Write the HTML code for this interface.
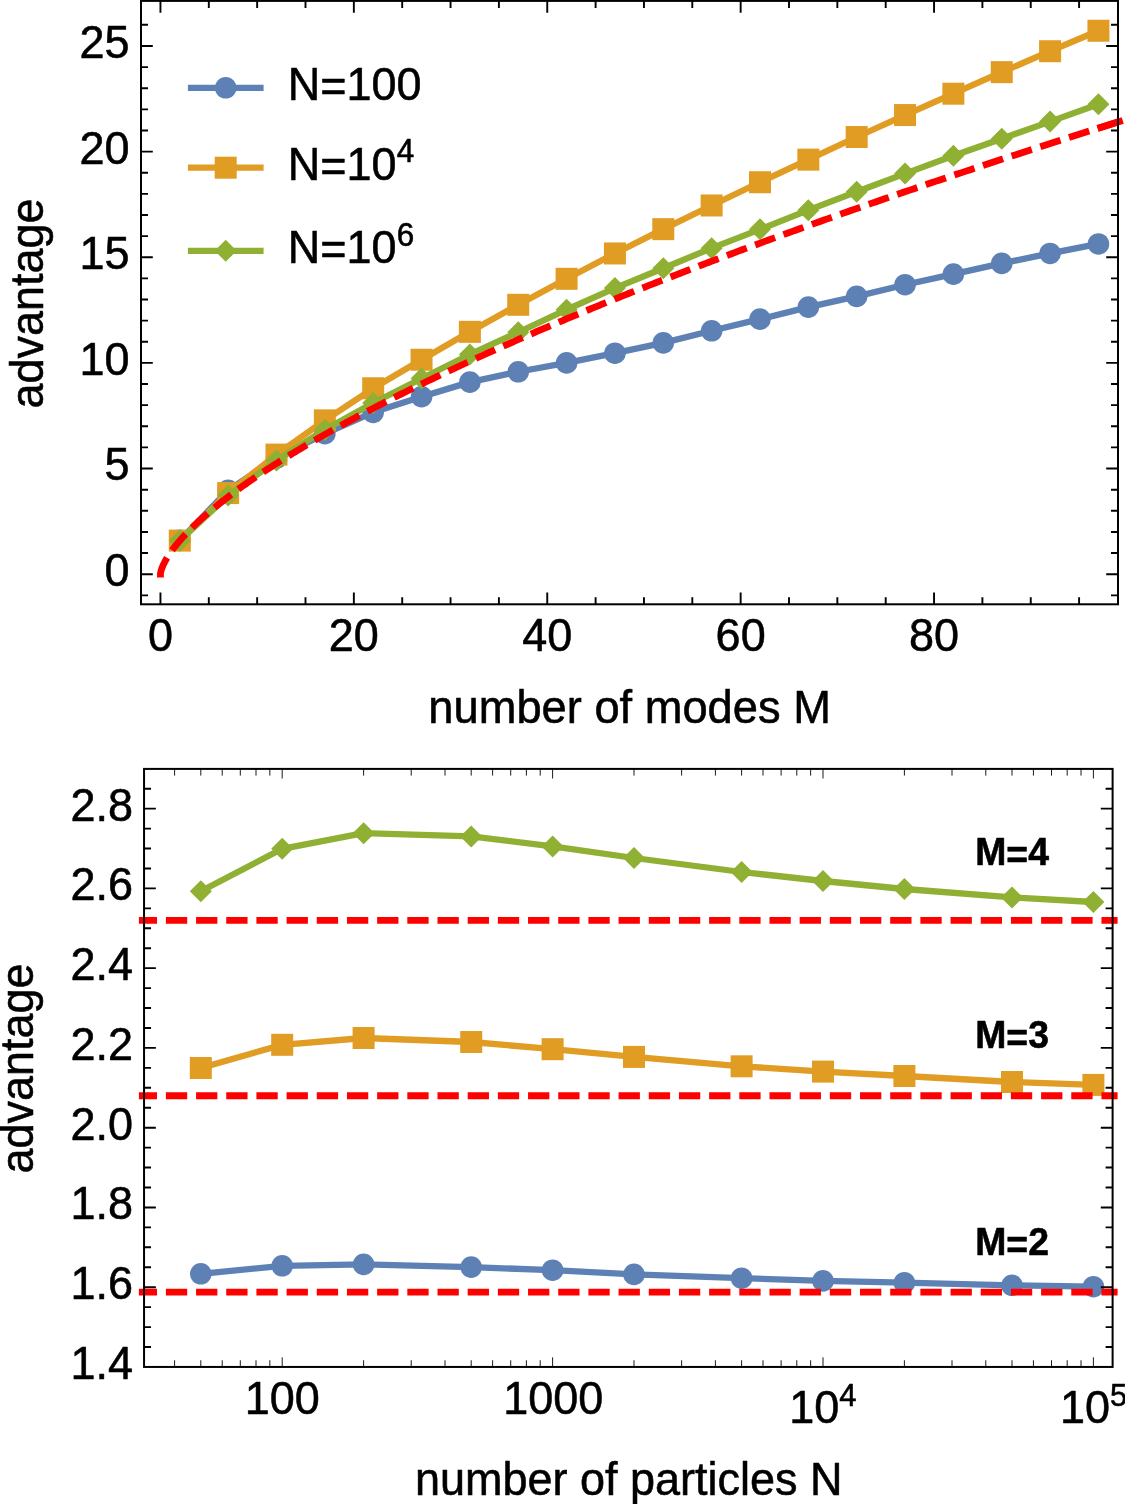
<!DOCTYPE html>
<html><head><meta charset="utf-8"><title>advantage plots</title>
<style>html,body{margin:0;padding:0;background:#fff}svg{display:block}text{font-family:"Liberation Sans", sans-serif;fill:#000}</style>
</head><body>
<svg width="1125" height="1504" viewBox="0 0 1125 1504">
<rect width="1125" height="1504" fill="#fff"/>
<polyline fill="none" stroke="#5e81b5" stroke-width="6.3" stroke-linejoin="round" points="179.79,540.39 228.14,490.31 276.49,457.99 324.84,433.69 373.19,412.34 421.54,396.71 469.89,382.13 518.24,371.77 566.59,362.9 614.94,353.18 663.29,342.83 711.64,330.78 759.99,319.16 808.34,307.12 856.69,296.34 905.04,284.72 953.39,274.15 1001.74,263.38 1050.09,253.45 1098.44,243.94"/>
<circle cx="179.79" cy="540.39" r="10.8" fill="#5e81b5"/>
<circle cx="228.14" cy="490.31" r="10.8" fill="#5e81b5"/>
<circle cx="276.49" cy="457.99" r="10.8" fill="#5e81b5"/>
<circle cx="324.84" cy="433.69" r="10.8" fill="#5e81b5"/>
<circle cx="373.19" cy="412.34" r="10.8" fill="#5e81b5"/>
<circle cx="421.54" cy="396.71" r="10.8" fill="#5e81b5"/>
<circle cx="469.89" cy="382.13" r="10.8" fill="#5e81b5"/>
<circle cx="518.24" cy="371.77" r="10.8" fill="#5e81b5"/>
<circle cx="566.59" cy="362.9" r="10.8" fill="#5e81b5"/>
<circle cx="614.94" cy="353.18" r="10.8" fill="#5e81b5"/>
<circle cx="663.29" cy="342.83" r="10.8" fill="#5e81b5"/>
<circle cx="711.64" cy="330.78" r="10.8" fill="#5e81b5"/>
<circle cx="759.99" cy="319.16" r="10.8" fill="#5e81b5"/>
<circle cx="808.34" cy="307.12" r="10.8" fill="#5e81b5"/>
<circle cx="856.69" cy="296.34" r="10.8" fill="#5e81b5"/>
<circle cx="905.04" cy="284.72" r="10.8" fill="#5e81b5"/>
<circle cx="953.39" cy="274.15" r="10.8" fill="#5e81b5"/>
<circle cx="1001.74" cy="263.38" r="10.8" fill="#5e81b5"/>
<circle cx="1050.09" cy="253.45" r="10.8" fill="#5e81b5"/>
<circle cx="1098.44" cy="243.94" r="10.8" fill="#5e81b5"/>
<polyline fill="none" stroke="#e19c24" stroke-width="6.3" stroke-linejoin="round" points="179.79,540.6 228.14,493.06 276.49,454.6 324.84,420.37 373.19,388.26 421.54,359.73 469.89,331.84 518.24,304.79 566.59,278.8 614.94,253.45 663.29,229.15 711.64,205.48 759.99,182.24 808.34,159.63 856.69,137.02 905.04,115.05 953.39,93.7 1001.74,72.15 1050.09,51.23 1098.44,30.74"/>
<rect x="168.79" y="529.6" width="22" height="22" fill="#e19c24"/>
<rect x="217.14" y="482.06" width="22" height="22" fill="#e19c24"/>
<rect x="265.49" y="443.6" width="22" height="22" fill="#e19c24"/>
<rect x="313.84" y="409.37" width="22" height="22" fill="#e19c24"/>
<rect x="362.19" y="377.26" width="22" height="22" fill="#e19c24"/>
<rect x="410.54" y="348.73" width="22" height="22" fill="#e19c24"/>
<rect x="458.89" y="320.84" width="22" height="22" fill="#e19c24"/>
<rect x="507.24" y="293.79" width="22" height="22" fill="#e19c24"/>
<rect x="555.59" y="267.8" width="22" height="22" fill="#e19c24"/>
<rect x="603.94" y="242.45" width="22" height="22" fill="#e19c24"/>
<rect x="652.29" y="218.15" width="22" height="22" fill="#e19c24"/>
<rect x="700.64" y="194.48" width="22" height="22" fill="#e19c24"/>
<rect x="748.99" y="171.24" width="22" height="22" fill="#e19c24"/>
<rect x="797.34" y="148.63" width="22" height="22" fill="#e19c24"/>
<rect x="845.69" y="126.02" width="22" height="22" fill="#e19c24"/>
<rect x="894.04" y="104.05" width="22" height="22" fill="#e19c24"/>
<rect x="942.39" y="82.7" width="22" height="22" fill="#e19c24"/>
<rect x="990.74" y="61.15" width="22" height="22" fill="#e19c24"/>
<rect x="1039.09" y="40.23" width="22" height="22" fill="#e19c24"/>
<rect x="1087.44" y="19.74" width="22" height="22" fill="#e19c24"/>
<polyline fill="none" stroke="#8fb032" stroke-width="6.3" stroke-linejoin="round" points="179.79,540.6 228.14,495.6 276.49,460.52 324.84,429.67 373.19,403.05 421.54,378.54 469.89,354.45 518.24,332.26 566.59,309.65 614.94,288.1 663.29,268.24 711.64,248.16 759.99,229.36 808.34,210.13 856.69,191.75 905.04,173.58 953.39,155.83 1001.74,138.71 1050.09,121.6 1098.44,104.27"/>
<polygon fill="#8fb032" points="168.79,540.6 179.79,529.6 190.79,540.6 179.79,551.6"/>
<polygon fill="#8fb032" points="217.14,495.6 228.14,484.6 239.14,495.6 228.14,506.6"/>
<polygon fill="#8fb032" points="265.49,460.52 276.49,449.52 287.49,460.52 276.49,471.52"/>
<polygon fill="#8fb032" points="313.84,429.67 324.84,418.67 335.84,429.67 324.84,440.67"/>
<polygon fill="#8fb032" points="362.19,403.05 373.19,392.05 384.19,403.05 373.19,414.05"/>
<polygon fill="#8fb032" points="410.54,378.54 421.54,367.54 432.54,378.54 421.54,389.54"/>
<polygon fill="#8fb032" points="458.89,354.45 469.89,343.45 480.89,354.45 469.89,365.45"/>
<polygon fill="#8fb032" points="507.24,332.26 518.24,321.26 529.24,332.26 518.24,343.26"/>
<polygon fill="#8fb032" points="555.59,309.65 566.59,298.65 577.59,309.65 566.59,320.65"/>
<polygon fill="#8fb032" points="603.94,288.1 614.94,277.1 625.94,288.1 614.94,299.1"/>
<polygon fill="#8fb032" points="652.29,268.24 663.29,257.24 674.29,268.24 663.29,279.24"/>
<polygon fill="#8fb032" points="700.64,248.16 711.64,237.16 722.64,248.16 711.64,259.16"/>
<polygon fill="#8fb032" points="748.99,229.36 759.99,218.36 770.99,229.36 759.99,240.36"/>
<polygon fill="#8fb032" points="797.34,210.13 808.34,199.13 819.34,210.13 808.34,221.13"/>
<polygon fill="#8fb032" points="845.69,191.75 856.69,180.75 867.69,191.75 856.69,202.75"/>
<polygon fill="#8fb032" points="894.04,173.58 905.04,162.58 916.04,173.58 905.04,184.58"/>
<polygon fill="#8fb032" points="942.39,155.83 953.39,144.83 964.39,155.83 953.39,166.83"/>
<polygon fill="#8fb032" points="990.74,138.71 1001.74,127.71 1012.74,138.71 1001.74,149.71"/>
<polygon fill="#8fb032" points="1039.09,121.6 1050.09,110.6 1061.09,121.6 1050.09,132.6"/>
<polygon fill="#8fb032" points="1087.44,104.27 1098.44,93.27 1109.44,104.27 1098.44,115.27"/>
<polyline fill="none" stroke="#ff0000" stroke-width="6.8" stroke-dasharray="21.2 8.96" points="160.45,577.5 160.45,574.2 160.46,574.05 160.47,573.81 160.5,573.53 160.55,573.22 160.6,572.88 160.67,572.52 160.74,572.14 160.83,571.74 160.94,571.32 161.05,570.88 161.18,570.43 161.32,569.97 161.47,569.49 161.63,569.01 161.8,568.5 161.99,567.99 162.19,567.47 162.4,566.94 162.62,566.39 162.86,565.84 163.1,565.28 163.36,564.71 163.63,564.13 163.91,563.54 164.21,562.95 164.52,562.34 164.83,561.73 165.17,561.11 165.51,560.48 165.86,559.85 166.23,559.21 166.61,558.56 167,557.9 167.4,557.24 167.82,556.57 168.24,555.9 168.68,555.22 169.13,554.53 169.6,553.84 170.07,553.14 170.56,552.43 171.06,551.72 171.57,551.01 172.09,550.29 172.63,549.56 173.18,548.83 173.74,548.09 174.31,547.34 174.89,546.59 175.49,545.84 176.09,545.08 176.71,544.32 177.34,543.55 177.99,542.78 178.64,542 179.31,541.22 179.99,540.43 180.68,539.64 181.38,538.84 182.1,538.04 182.83,537.23 183.57,536.42 184.32,535.61 185.08,534.79 185.86,533.96 186.65,533.14 187.45,532.31 188.26,531.47 189.08,530.63 189.92,529.79 190.77,528.94 191.63,528.09 192.5,527.23 193.38,526.37 194.28,525.51 195.19,524.64 196.11,523.77 197.04,522.89 197.98,522.01 198.94,521.13 199.91,520.24 200.89,519.35 201.88,518.46 202.89,517.56 203.9,516.66 204.93,515.76 205.97,514.85 207.02,513.94 208.09,513.02 209.16,512.11 210.25,511.18 211.35,510.26 212.47,509.33 213.59,508.4 214.73,507.46 215.88,506.53 217.04,505.58 218.21,504.64 219.39,503.69 220.59,502.74 221.8,501.79 223.02,500.83 224.25,499.87 225.5,498.9 226.76,497.94 228.02,496.97 229.31,495.99 230.6,495.02 231.9,494.04 233.22,493.06 234.55,492.07 235.89,491.08 237.24,490.09 238.61,489.1 239.99,488.1 241.38,487.1 242.78,486.1 244.19,485.09 245.62,484.09 247.05,483.08 248.5,482.06 249.96,481.04 251.44,480.03 252.92,479 254.42,477.98 255.93,476.95 257.45,475.92 258.98,474.89 260.53,473.85 262.09,472.81 263.66,471.77 265.24,470.73 266.83,469.68 268.44,468.63 270.06,467.58 271.69,466.53 273.33,465.47 274.98,464.41 276.65,463.35 278.33,462.28 280.02,461.22 281.72,460.15 283.43,459.07 285.16,458 286.9,456.92 288.65,455.84 290.41,454.76 292.18,453.68 293.97,452.59 295.77,451.5 297.58,450.41 299.4,449.31 301.23,448.22 303.08,447.12 304.94,446.02 306.81,444.91 308.69,443.81 310.59,442.7 312.49,441.59 314.41,440.47 316.34,439.36 318.28,438.24 320.24,437.12 322.2,436 324.18,434.87 326.17,433.74 328.18,432.62 330.19,431.48 332.22,430.35 334.26,429.21 336.31,428.08 338.37,426.94 340.44,425.79 342.53,424.65 344.63,423.5 346.74,422.35 348.86,421.2 351,420.05 353.15,418.89 355.31,417.73 357.48,416.57 359.66,415.41 361.85,414.25 364.06,413.08 366.28,411.91 368.51,410.74 370.76,409.57 373.01,408.39 375.28,407.22 377.56,406.04 379.85,404.86 382.15,403.67 384.47,402.49 386.8,401.3 389.13,400.11 391.49,398.92 393.85,397.73 396.23,396.53 398.61,395.33 401.01,394.13 403.42,392.93 405.85,391.73 408.28,390.52 410.73,389.32 413.19,388.11 415.66,386.89 418.15,385.68 420.64,384.47 423.15,383.25 425.67,382.03 428.2,380.81 430.75,379.59 433.3,378.36 435.87,377.13 438.45,375.91 441.04,374.67 443.65,373.44 446.26,372.21 448.89,370.97 451.53,369.73 454.18,368.49 456.85,367.25 459.52,366.01 462.21,364.76 464.91,363.51 467.62,362.26 470.35,361.01 473.09,359.76 475.83,358.5 478.59,357.25 481.37,355.99 484.15,354.73 486.95,353.47 489.76,352.2 492.58,350.94 495.41,349.67 498.25,348.4 501.11,347.13 503.98,345.86 506.86,344.58 509.75,343.3 512.66,342.03 515.57,340.75 518.5,339.46 521.44,338.18 524.4,336.89 527.36,335.61 530.34,334.32 533.33,333.03 536.33,331.74 539.34,330.44 542.37,329.15 545.4,327.85 548.45,326.55 551.51,325.25 554.59,323.95 557.67,322.64 560.77,321.34 563.88,320.03 567,318.72 570.13,317.41 573.28,316.1 576.44,314.78 579.61,313.47 582.79,312.15 585.98,310.83 589.19,309.51 592.4,308.18 595.63,306.86 598.88,305.53 602.13,304.21 605.39,302.88 608.67,301.55 611.96,300.21 615.26,298.88 618.58,297.54 621.9,296.21 625.24,294.87 628.59,293.53 631.95,292.19 635.33,290.84 638.71,289.5 642.11,288.15 645.52,286.8 648.94,285.45 652.38,284.1 655.82,282.75 659.28,281.39 662.75,280.04 666.23,278.68 669.73,277.32 673.23,275.96 676.75,274.59 680.28,273.23 683.82,271.86 687.38,270.5 690.94,269.13 694.52,267.76 698.11,266.39 701.72,265.01 705.33,263.64 708.96,262.26 712.6,260.88 716.25,259.5 719.91,258.12 723.58,256.74 727.27,255.36 730.97,253.97 734.68,252.58 738.4,251.19 742.14,249.8 745.88,248.41 749.64,247.02 753.41,245.63 757.2,244.23 760.99,242.83 764.8,241.43 768.62,240.03 772.45,238.63 776.29,237.23 780.15,235.82 784.01,234.42 787.89,233.01 791.78,231.6 795.69,230.19 799.6,228.78 803.53,227.36 807.47,225.95 811.42,224.53 815.38,223.11 819.36,221.7 823.34,220.27 827.34,218.85 831.35,217.43 835.38,216 839.41,214.58 843.46,213.15 847.52,211.72 851.59,210.29 855.68,208.86 859.77,207.43 863.88,205.99 868,204.55 872.13,203.12 876.27,201.68 880.43,200.24 884.6,198.8 888.78,197.35 892.97,195.91 897.17,194.46 901.39,193.01 905.62,191.57 909.86,190.12 914.11,188.66 918.37,187.21 922.65,185.76 926.94,184.3 931.24,182.84 935.55,181.39 939.87,179.93 944.21,178.47 948.56,177 952.92,175.54 957.29,174.08 961.67,172.61 966.07,171.14 970.48,169.67 974.9,168.2 979.33,166.73 983.78,165.26 988.23,163.78 992.7,162.31 997.18,160.83 1001.67,159.35 1006.18,157.87 1010.69,156.39 1015.22,154.91 1019.76,153.43 1024.32,151.94 1028.88,150.45 1033.46,148.97 1038.05,147.48 1042.65,145.99 1047.26,144.5 1051.88,143 1056.52,141.51 1061.17,140.01 1065.83,138.52 1070.5,137.02 1075.19,135.52 1079.89,134.02 1084.59,132.52 1089.32,131.02 1094.05,129.51 1098.79,128.01 1103.55,126.5 1108.32,124.99 1113.1,123.48 1117.89,121.97 1122.7,120.46"/>
<line x1="1097.6" y1="128.39" x2="1122.7" y2="120.46" stroke="#ff0000" stroke-width="6.8"/>
<path d="M160.45 604.3v-11.8M160.45 0.9v11.8M208.8 604.3v-7M208.8 0.9v7M257.15 604.3v-7M257.15 0.9v7M305.5 604.3v-7M305.5 0.9v7M353.85 604.3v-11.8M353.85 0.9v11.8M402.2 604.3v-7M402.2 0.9v7M450.55 604.3v-7M450.55 0.9v7M498.9 604.3v-7M498.9 0.9v7M547.25 604.3v-11.8M547.25 0.9v11.8M595.6 604.3v-7M595.6 0.9v7M643.95 604.3v-7M643.95 0.9v7M692.3 604.3v-7M692.3 0.9v7M740.65 604.3v-11.8M740.65 0.9v11.8M789 604.3v-7M789 0.9v7M837.35 604.3v-7M837.35 0.9v7M885.7 604.3v-7M885.7 0.9v7M934.05 604.3v-11.8M934.05 0.9v11.8M982.4 604.3v-7M982.4 0.9v7M1030.75 604.3v-7M1030.75 0.9v7M1079.1 604.3v-7M1079.1 0.9v7M141 595.33h7M1118 595.33h-7M141 574.2h11.8M1118 574.2h-11.8M141 553.07h7M1118 553.07h-7M141 531.94h7M1118 531.94h-7M141 510.81h7M1118 510.81h-7M141 489.68h7M1118 489.68h-7M141 468.55h11.8M1118 468.55h-11.8M141 447.42h7M1118 447.42h-7M141 426.29h7M1118 426.29h-7M141 405.16h7M1118 405.16h-7M141 384.03h7M1118 384.03h-7M141 362.9h11.8M1118 362.9h-11.8M141 341.77h7M1118 341.77h-7M141 320.64h7M1118 320.64h-7M141 299.51h7M1118 299.51h-7M141 278.38h7M1118 278.38h-7M141 257.25h11.8M1118 257.25h-11.8M141 236.12h7M1118 236.12h-7M141 214.99h7M1118 214.99h-7M141 193.86h7M1118 193.86h-7M141 172.73h7M1118 172.73h-7M141 151.6h11.8M1118 151.6h-11.8M141 130.47h7M1118 130.47h-7M141 109.34h7M1118 109.34h-7M141 88.21h7M1118 88.21h-7M141 67.08h7M1118 67.08h-7M141 45.95h11.8M1118 45.95h-11.8M141 24.82h7M1118 24.82h-7" stroke="#000" stroke-width="1.9" fill="none"/>
<rect x="141" y="0.9" width="977" height="603.4" fill="none" stroke="#000" stroke-width="2"/>
<text transform="translate(129.6 586.1) scale(1.0 1.01)" font-size="45" text-anchor="end" stroke="#000" stroke-width="0.55" stroke-linejoin="round">0</text>
<text transform="translate(129.6 480.45) scale(1.0 1.01)" font-size="45" text-anchor="end" stroke="#000" stroke-width="0.55" stroke-linejoin="round">5</text>
<text transform="translate(129.6 374.8) scale(1.0 1.01)" font-size="45" text-anchor="end" stroke="#000" stroke-width="0.55" stroke-linejoin="round">10</text>
<text transform="translate(129.6 269.15) scale(1.0 1.01)" font-size="45" text-anchor="end" stroke="#000" stroke-width="0.55" stroke-linejoin="round">15</text>
<text transform="translate(129.6 163.5) scale(1.0 1.01)" font-size="45" text-anchor="end" stroke="#000" stroke-width="0.55" stroke-linejoin="round">20</text>
<text transform="translate(129.6 57.85) scale(1.0 1.01)" font-size="45" text-anchor="end" stroke="#000" stroke-width="0.55" stroke-linejoin="round">25</text>
<text transform="translate(160.45 651) scale(1.0 1.01)" font-size="45" text-anchor="middle" stroke="#000" stroke-width="0.55" stroke-linejoin="round">0</text>
<text transform="translate(353.85 651) scale(1.0 1.01)" font-size="45" text-anchor="middle" stroke="#000" stroke-width="0.55" stroke-linejoin="round">20</text>
<text transform="translate(547.25 651) scale(1.0 1.01)" font-size="45" text-anchor="middle" stroke="#000" stroke-width="0.55" stroke-linejoin="round">40</text>
<text transform="translate(740.65 651) scale(1.0 1.01)" font-size="45" text-anchor="middle" stroke="#000" stroke-width="0.55" stroke-linejoin="round">60</text>
<text transform="translate(934.05 651) scale(1.0 1.01)" font-size="45" text-anchor="middle" stroke="#000" stroke-width="0.55" stroke-linejoin="round">80</text>
<text transform="translate(629.6 723) scale(1.006 1.01)" font-size="45" text-anchor="middle" stroke="#000" stroke-width="0.55" stroke-linejoin="round">number of modes M</text>
<text transform="translate(42.8 303.5) rotate(-90) scale(1.0 1.01)" font-size="45" text-anchor="middle" stroke="#000" stroke-width="0.55" stroke-linejoin="round">advantage</text>
<line x1="187.9" y1="87.8" x2="263.6" y2="87.8" stroke="#5e81b5" stroke-width="6.3"/>
<circle cx="225.7" cy="87.8" r="10.8" fill="#5e81b5"/>
<line x1="187.9" y1="167.7" x2="263.6" y2="167.7" stroke="#e19c24" stroke-width="6.3"/>
<rect x="214.7" y="156.7" width="22" height="22" fill="#e19c24"/>
<line x1="187.9" y1="250.8" x2="263.6" y2="250.8" stroke="#8fb032" stroke-width="6.3"/>
<polygon fill="#8fb032" points="214.7,250.8 225.7,239.8 236.7,250.8 225.7,261.8"/>
<text transform="translate(287.8 99.5) scale(1.0 1.035)" font-size="45" text-anchor="start" stroke="#000" stroke-width="0.55" stroke-linejoin="round">N<tspan dy="2.0">=</tspan><tspan dy="-2.0">100</tspan></text>
<text transform="translate(287.8 179.5) scale(1.0 1.035)" font-size="45" text-anchor="start" stroke="#000" stroke-width="0.55" stroke-linejoin="round">N<tspan dy="2.0">=</tspan><tspan dy="-2.0">10</tspan><tspan font-size="31.5" dy="-16.7">4</tspan></text>
<text transform="translate(287.8 262.8) scale(1.0 1.035)" font-size="45" text-anchor="start" stroke="#000" stroke-width="0.55" stroke-linejoin="round">N<tspan dy="2.0">=</tspan><tspan dy="-2.0">10</tspan><tspan font-size="31.5" dy="-16.7">6</tspan></text>
<polyline fill="none" stroke="#5e81b5" stroke-width="6.3" stroke-linejoin="round" points="200.8,1273.8 282.2,1265.8 363.6,1264.4 471.2,1267.1 552.6,1270.2 634,1274.4 741.6,1278.2 823,1280.9 904.4,1282.7 1012,1285.3 1093.4,1286.7"/>
<circle cx="200.8" cy="1273.8" r="10.8" fill="#5e81b5"/>
<circle cx="282.2" cy="1265.8" r="10.8" fill="#5e81b5"/>
<circle cx="363.6" cy="1264.4" r="10.8" fill="#5e81b5"/>
<circle cx="471.2" cy="1267.1" r="10.8" fill="#5e81b5"/>
<circle cx="552.6" cy="1270.2" r="10.8" fill="#5e81b5"/>
<circle cx="634" cy="1274.4" r="10.8" fill="#5e81b5"/>
<circle cx="741.6" cy="1278.2" r="10.8" fill="#5e81b5"/>
<circle cx="823" cy="1280.9" r="10.8" fill="#5e81b5"/>
<circle cx="904.4" cy="1282.7" r="10.8" fill="#5e81b5"/>
<circle cx="1012" cy="1285.3" r="10.8" fill="#5e81b5"/>
<circle cx="1093.4" cy="1286.7" r="10.8" fill="#5e81b5"/>
<polyline fill="none" stroke="#e19c24" stroke-width="6.3" stroke-linejoin="round" points="200.8,1068 282.2,1044.8 363.6,1038 471.2,1042 552.6,1049.2 634,1056.9 741.6,1066.3 823,1071.6 904.4,1076 1012,1082 1093.4,1084.9"/>
<rect x="189.8" y="1057" width="22" height="22" fill="#e19c24"/>
<rect x="271.2" y="1033.8" width="22" height="22" fill="#e19c24"/>
<rect x="352.6" y="1027" width="22" height="22" fill="#e19c24"/>
<rect x="460.2" y="1031" width="22" height="22" fill="#e19c24"/>
<rect x="541.6" y="1038.2" width="22" height="22" fill="#e19c24"/>
<rect x="623" y="1045.9" width="22" height="22" fill="#e19c24"/>
<rect x="730.6" y="1055.3" width="22" height="22" fill="#e19c24"/>
<rect x="812" y="1060.6" width="22" height="22" fill="#e19c24"/>
<rect x="893.4" y="1065" width="22" height="22" fill="#e19c24"/>
<rect x="1001" y="1071" width="22" height="22" fill="#e19c24"/>
<rect x="1082.4" y="1073.9" width="22" height="22" fill="#e19c24"/>
<polyline fill="none" stroke="#8fb032" stroke-width="6.3" stroke-linejoin="round" points="200.8,891.2 282.2,848.8 363.6,833.2 471.2,836.4 552.6,846.4 634,858 741.6,872 823,881 904.4,889 1012,897.4 1093.4,902"/>
<polygon fill="#8fb032" points="189.8,891.2 200.8,880.2 211.8,891.2 200.8,902.2"/>
<polygon fill="#8fb032" points="271.2,848.8 282.2,837.8 293.2,848.8 282.2,859.8"/>
<polygon fill="#8fb032" points="352.6,833.2 363.6,822.2 374.6,833.2 363.6,844.2"/>
<polygon fill="#8fb032" points="460.2,836.4 471.2,825.4 482.2,836.4 471.2,847.4"/>
<polygon fill="#8fb032" points="541.6,846.4 552.6,835.4 563.6,846.4 552.6,857.4"/>
<polygon fill="#8fb032" points="623,858 634,847 645,858 634,869"/>
<polygon fill="#8fb032" points="730.6,872 741.6,861 752.6,872 741.6,883"/>
<polygon fill="#8fb032" points="812,881 823,870 834,881 823,892"/>
<polygon fill="#8fb032" points="893.4,889 904.4,878 915.4,889 904.4,900"/>
<polygon fill="#8fb032" points="1001,897.4 1012,886.4 1023,897.4 1012,908.4"/>
<polygon fill="#8fb032" points="1082.4,902 1093.4,891 1104.4,902 1093.4,913"/>
<line x1="138.9" y1="1292.22" x2="1117.6" y2="1292.22" stroke="#ff0000" stroke-width="6.8" stroke-dasharray="21.3 8.88" stroke-dashoffset="3.2"/>
<line x1="138.9" y1="1095.74" x2="1117.6" y2="1095.74" stroke="#ff0000" stroke-width="6.8" stroke-dasharray="21.3 8.88" stroke-dashoffset="3.2"/>
<line x1="138.9" y1="920.37" x2="1117.6" y2="920.37" stroke="#ff0000" stroke-width="6.8" stroke-dasharray="21.3 8.88" stroke-dashoffset="3.2"/>
<path d="M144.05 1347.02h7M1112.6 1347.02h-7M144.05 1327.08h7M1112.6 1327.08h-7M144.05 1307.14h7M1112.6 1307.14h-7M144.05 1287.2h11.8M1112.6 1287.2h-11.8M144.05 1267.26h7M1112.6 1267.26h-7M144.05 1247.32h7M1112.6 1247.32h-7M144.05 1227.38h7M1112.6 1227.38h-7M144.05 1207.44h11.8M1112.6 1207.44h-11.8M144.05 1187.5h7M1112.6 1187.5h-7M144.05 1167.56h7M1112.6 1167.56h-7M144.05 1147.62h7M1112.6 1147.62h-7M144.05 1127.68h11.8M1112.6 1127.68h-11.8M144.05 1107.74h7M1112.6 1107.74h-7M144.05 1087.8h7M1112.6 1087.8h-7M144.05 1067.86h7M1112.6 1067.86h-7M144.05 1047.92h11.8M1112.6 1047.92h-11.8M144.05 1027.98h7M1112.6 1027.98h-7M144.05 1008.04h7M1112.6 1008.04h-7M144.05 988.1h7M1112.6 988.1h-7M144.05 968.16h11.8M1112.6 968.16h-11.8M144.05 948.22h7M1112.6 948.22h-7M144.05 928.28h7M1112.6 928.28h-7M144.05 908.34h7M1112.6 908.34h-7M144.05 888.4h11.8M1112.6 888.4h-11.8M144.05 868.46h7M1112.6 868.46h-7M144.05 848.52h7M1112.6 848.52h-7M144.05 828.58h7M1112.6 828.58h-7M144.05 808.64h11.8M1112.6 808.64h-11.8M144.05 788.7h7M1112.6 788.7h-7" stroke="#000" stroke-width="1.9" fill="none"/>
<path d="M174.6 1366.95v-6.7M174.6 768.9v6.7M200.8 1366.95v-6.7M200.8 768.9v6.7M222.21 1366.95v-6.7M222.21 768.9v6.7M240.31 1366.95v-6.7M240.31 768.9v6.7M256 1366.95v-6.7M256 768.9v6.7M269.83 1366.95v-6.7M269.83 768.9v6.7M282.2 1366.95v-9.6M282.2 768.9v9.6M363.6 1366.95v-6.7M363.6 768.9v6.7M411.21 1366.95v-6.7M411.21 768.9v6.7M445 1366.95v-6.7M445 768.9v6.7M471.2 1366.95v-6.7M471.2 768.9v6.7M492.61 1366.95v-6.7M492.61 768.9v6.7M510.71 1366.95v-6.7M510.71 768.9v6.7M526.4 1366.95v-6.7M526.4 768.9v6.7M540.23 1366.95v-6.7M540.23 768.9v6.7M552.6 1366.95v-9.6M552.6 768.9v9.6M634 1366.95v-6.7M634 768.9v6.7M681.61 1366.95v-6.7M681.61 768.9v6.7M715.4 1366.95v-6.7M715.4 768.9v6.7M741.6 1366.95v-6.7M741.6 768.9v6.7M763.01 1366.95v-6.7M763.01 768.9v6.7M781.11 1366.95v-6.7M781.11 768.9v6.7M796.8 1366.95v-6.7M796.8 768.9v6.7M810.63 1366.95v-6.7M810.63 768.9v6.7M823 1366.95v-9.6M823 768.9v9.6M904.4 1366.95v-6.7M904.4 768.9v6.7M952.01 1366.95v-6.7M952.01 768.9v6.7M985.8 1366.95v-6.7M985.8 768.9v6.7M1012 1366.95v-6.7M1012 768.9v6.7M1033.41 1366.95v-6.7M1033.41 768.9v6.7M1051.51 1366.95v-6.7M1051.51 768.9v6.7M1067.2 1366.95v-6.7M1067.2 768.9v6.7M1081.03 1366.95v-6.7M1081.03 768.9v6.7M1093.4 1366.95v-9.6M1093.4 768.9v9.6" stroke="#000" stroke-width="0.9" fill="none"/>
<rect x="144.05" y="768.9" width="968.55" height="598.05" fill="none" stroke="#000" stroke-width="2"/>
<text transform="translate(133 1378.86) scale(1.0 1.01)" font-size="45" text-anchor="end" stroke="#000" stroke-width="0.55" stroke-linejoin="round">1.4</text>
<text transform="translate(133 1299.1) scale(1.0 1.01)" font-size="45" text-anchor="end" stroke="#000" stroke-width="0.55" stroke-linejoin="round">1.6</text>
<text transform="translate(133 1219.34) scale(1.0 1.01)" font-size="45" text-anchor="end" stroke="#000" stroke-width="0.55" stroke-linejoin="round">1.8</text>
<text transform="translate(133 1139.58) scale(1.0 1.01)" font-size="45" text-anchor="end" stroke="#000" stroke-width="0.55" stroke-linejoin="round">2.0</text>
<text transform="translate(133 1059.82) scale(1.0 1.01)" font-size="45" text-anchor="end" stroke="#000" stroke-width="0.55" stroke-linejoin="round">2.2</text>
<text transform="translate(133 980.06) scale(1.0 1.01)" font-size="45" text-anchor="end" stroke="#000" stroke-width="0.55" stroke-linejoin="round">2.4</text>
<text transform="translate(133 900.3) scale(1.0 1.01)" font-size="45" text-anchor="end" stroke="#000" stroke-width="0.55" stroke-linejoin="round">2.6</text>
<text transform="translate(133 820.54) scale(1.0 1.01)" font-size="45" text-anchor="end" stroke="#000" stroke-width="0.55" stroke-linejoin="round">2.8</text>
<text transform="translate(282.2 1413.8) scale(1.0 1.01)" font-size="45" text-anchor="middle" stroke="#000" stroke-width="0.55" stroke-linejoin="round">100</text>
<text transform="translate(553.2 1413.8) scale(1.0 1.01)" font-size="45" text-anchor="middle" stroke="#000" stroke-width="0.55" stroke-linejoin="round">1000</text>
<text transform="translate(822.8 1422.7) scale(1.0 1.01)" font-size="45" text-anchor="middle" stroke="#000" stroke-width="0.55" stroke-linejoin="round">10<tspan font-size="31" dy="-16.3">4</tspan></text>
<text transform="translate(1093.6 1422.7) scale(1.0 1.01)" font-size="45" text-anchor="middle" stroke="#000" stroke-width="0.55" stroke-linejoin="round">10<tspan font-size="31" dy="-16.3">5</tspan></text>
<text transform="translate(628.7 1494.6) scale(1.0 1.01)" font-size="45" text-anchor="middle" stroke="#000" stroke-width="0.55" stroke-linejoin="round">number of particles N</text>
<text transform="translate(33.4 1068.5) rotate(-90) scale(1.0 1.01)" font-size="45" text-anchor="middle" stroke="#000" stroke-width="0.55" stroke-linejoin="round">advantage</text>
<text transform="translate(975.2 864.8) scale(1.01 1.045)" font-size="37" text-anchor="start" font-weight="bold" stroke="#000" stroke-width="0.55" stroke-linejoin="round">M<tspan dy="3.0">=</tspan><tspan dy="-3.0">4</tspan></text>
<text transform="translate(975.2 1048.2) scale(1.01 1.045)" font-size="37" text-anchor="start" font-weight="bold" stroke="#000" stroke-width="0.55" stroke-linejoin="round">M<tspan dy="3.0">=</tspan><tspan dy="-3.0">3</tspan></text>
<text transform="translate(975.2 1255) scale(1.01 1.045)" font-size="37" text-anchor="start" font-weight="bold" stroke="#000" stroke-width="0.55" stroke-linejoin="round">M<tspan dy="3.0">=</tspan><tspan dy="-3.0">2</tspan></text>
</svg></body></html>
